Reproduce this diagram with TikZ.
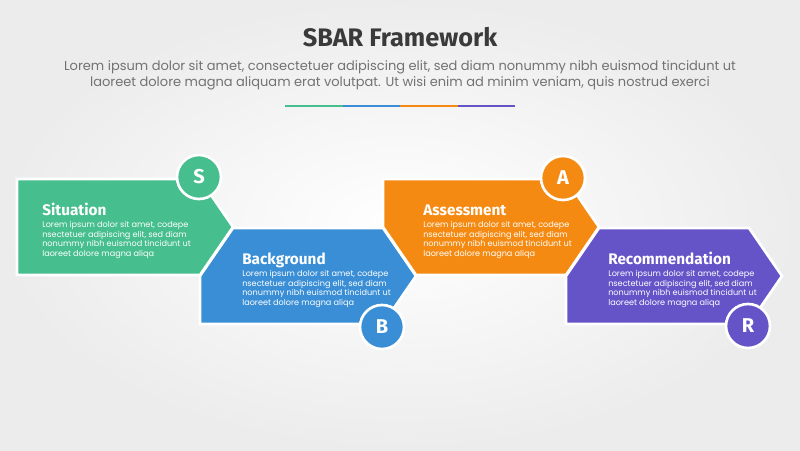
\documentclass[tikz,border=0pt]{standalone}
\usepackage{fontspec}
\setmainfont{Poppins}
\newfontfamily\headfont{Fira Sans}
\usetikzlibrary{calc}
\definecolor{sitGreen}{HTML}{46BE8E}
\definecolor{bgBlue}{HTML}{3A8ED5}
\definecolor{asOrange}{HTML}{F58A12}
\definecolor{recPurple}{HTML}{6553C8}
\definecolor{textGray}{HTML}{727272}
\definecolor{titleGray}{HTML}{3A3A3A}
\definecolor{paper}{HTML}{ECECEC}

\tikzset{
	panel/.style={draw=white, line width=2pt, line join=miter},
	badge/.style={circle, draw=white, line width=2pt, minimum size=33pt, inner sep=0pt,
		text=white, font=\headfont\bfseries\fontsize{15}{15}\selectfont},
	heading/.style={anchor=base west, inner sep=0pt, text=white,
		font=\headfont\bfseries\fontsize{11.5}{12}\selectfont},
	blurb/.style={anchor=north west, inner sep=0pt, text=white, align=left,
		font=\fontsize{6.1}{7.3}\selectfont},
}

\begin{document}
\begin{tikzpicture}[x=0.75pt, y=-0.75pt]
	\useasboundingbox (0,0) rectangle (800,450);
	\fill[inner color=white, outer color=paper] (0,0) rectangle (800,450);

	% title and intro
	\node (title) at (400,37) {\headfont\bfseries\fontsize{19}{19}\selectfont\color{titleGray}SBAR Framework};
	\node[align=center, text=textGray, font=\fontsize{9.75}{12}\selectfont] (intro) at (400,75)
		{Lorem ipsum dolor sit amet, consectetuer adipiscing elit, sed diam nonummy nibh euismod tincidunt ut\\
		laoreet dolore magna aliquam erat volutpat. Ut wisi enim ad minim veniam, quis nostrud exerci};
	\foreach \c [count=\i from 0] in {sitGreen,bgBlue,asOrange,recPurple}
		\draw[\c, line width=2.2pt] (285+57.5*\i,106) -- (342.5+57.5*\i,106);

	% arrow panels
	\filldraw[panel, fill=sitGreen] (17,179) -- (200,179) -- (233,227) -- (200,275) -- (17,275) -- cycle;
	\filldraw[panel, fill=bgBlue] (233,228) -- (383,228) -- (416,276) -- (383,324) -- (200,324) -- (200,276) -- cycle;
	\filldraw[panel, fill=asOrange] (383,179) -- (566,179) -- (599,227) -- (566,275) -- (416,275) -- (383,227) -- cycle;
	\filldraw[panel, fill=recPurple] (599,228) -- (749,228) -- (782,276) -- (749,324) -- (566,324) -- (566,276) -- cycle;

	% badges
	\node[badge, fill=sitGreen] (s) at (199,177) {S};
	\node[badge, fill=bgBlue] (b) at (382,327) {B};
	\node[badge, fill=asOrange] (a) at (563,178) {A};
	\node[badge, fill=recPurple] (r) at (748,326) {R};

	% texts
	\node[heading] (situation) at (42,215) {Situation};
	\node[heading] (background) at (242,264) {Background};
	\node[heading] (assessment) at (423,215) {Assessment};
	\node[heading] (recommendation) at (608,264) {Recommendation};
	\foreach \n/\x/\y in {sit/42/221, bg/242/270, as/423/221, rec/608/270}
		\node[blurb] (\n text) at (\x,\y) {Lorem ipsum dolor sit amet, codepe\\
			nsectetuer adipiscing elit, sed diam\\
			nonummy nibh euismod tincidunt ut\\
			laoreet dolore magna aliqa};
\end{tikzpicture}
\end{document}
